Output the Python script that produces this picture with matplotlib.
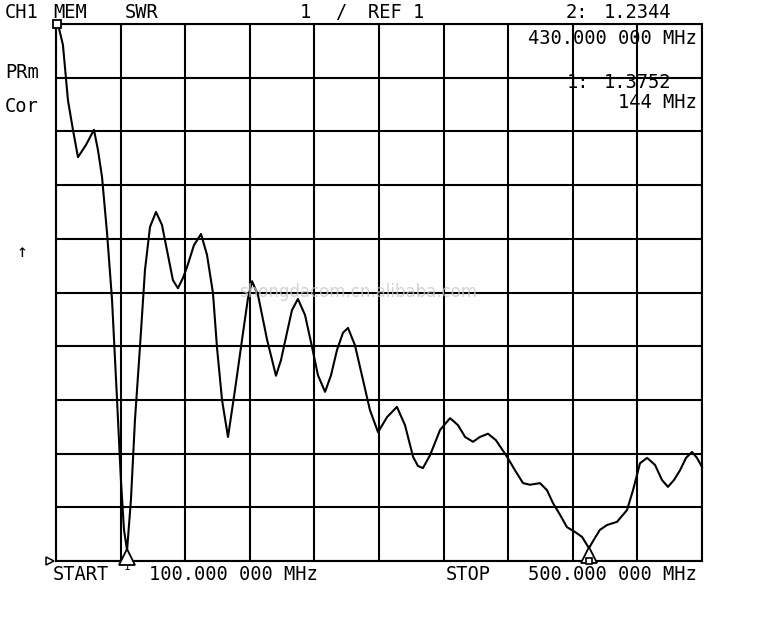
"""Network analyzer SWR trace (CH1 MEM), 100-500 MHz sweep."""

import matplotlib

matplotlib.use("Agg")
import matplotlib.pyplot as plt
import matplotlib.transforms as mtransforms
import numpy as np

# sweep frequency (MHz) and trace height in graticule divisions (REF 1 at bottom)
freq_mhz = [
    101.2, 104.3, 107.4, 110.5, 113.6, 118.6, 123.5, 126.0, 128.5, 131.6,
    134.7, 137.8, 140.2, 142.1, 144.0, 146.4, 148.9, 152.0, 155.1, 158.2,
    161.9, 165.6, 168.7, 172.4, 175.5, 178.6, 181.1, 185.4, 189.8, 193.5,
    197.2, 199.7, 202.8, 206.5, 210.8, 215.8, 218.9, 221.4, 225.1, 230.7,
    236.2, 239.3, 243.0, 246.1, 249.8, 254.2, 258.5, 262.2, 266.6, 270.3,
    274.0, 277.7, 280.8, 285.1, 290.1, 294.4, 299.4, 305.0, 311.1, 316.1,
    321.1, 324.1, 327.2, 331.6, 337.8, 344.0, 348.9, 353.3, 358.2, 362.5,
    367.5, 372.4, 379.3, 384.2, 389.2, 393.5, 399.7, 404.0, 407.7, 412.1,
    416.4, 421.4, 425.7, 430.0, 433.7, 436.8, 441.2, 447.4, 453.6, 457.3,
    461.6, 466.0, 470.9, 475.2, 478.9, 482.7, 486.4, 490.1, 493.8, 496.9,
    500.0,
]
swr_div = [
    10.00, 9.61, 8.58, 8.03, 7.52, 7.75, 8.03, 7.65, 7.15, 6.11,
    4.86, 3.00, 1.51, 0.58, 0.20, 1.14, 2.63, 3.99, 5.42, 6.22,
    6.50, 6.26, 5.79, 5.23, 5.08, 5.27, 5.47, 5.88, 6.09, 5.70,
    4.99, 3.97, 3.00, 2.31, 3.18, 4.25, 4.90, 5.21, 4.95, 4.12,
    3.45, 3.74, 4.25, 4.67, 4.88, 4.58, 3.99, 3.46, 3.15, 3.46,
    3.93, 4.25, 4.34, 4.02, 3.37, 2.81, 2.40, 2.68, 2.87, 2.53,
    1.94, 1.77, 1.73, 1.97, 2.44, 2.66, 2.53, 2.31, 2.22, 2.31,
    2.37, 2.25, 1.94, 1.69, 1.45, 1.42, 1.45, 1.32, 1.08, 0.86,
    0.63, 0.54, 0.45, 0.24, 0.43, 0.58, 0.67, 0.73, 0.95, 1.32,
    1.82, 1.92, 1.79, 1.51, 1.38, 1.51, 1.69, 1.92, 2.03, 1.92,
    1.75,
]

# markers 1 and 2: frequency (MHz), trace level (div), SWR readout
marker_freq = [144.0, 430.0]
marker_level = [0.20, 0.24]
marker_readout = ["1.3752", "1.2344"]

start_mhz, stop_mhz = 100.0, 500.0
n_div = 10

W, H = 768, 620
MONO = "DejaVu Sans Mono"
FS = 13.5


def px_text(fig, x, y, s, **kw):
    """Place text using image pixel coords (origin top-left)."""
    kw.setdefault("family", MONO)
    kw.setdefault("fontsize", FS)
    kw.setdefault("va", "center")
    kw.setdefault("ha", "left")
    kw.setdefault("color", "black")
    fig.text(x / W, 1 - y / H, s, **kw)


def main():
    fig = plt.figure(figsize=(W / 100, H / 100), dpi=100)
    fig.patch.set_facecolor("white")
    ax = fig.add_axes([56 / W, 1 - 561 / H, (702 - 56) / W, (561 - 24) / H])

    ax.set_xlim(start_mhz, stop_mhz)
    ax.set_ylim(0, n_div)
    ax.set_xticks(np.linspace(start_mhz, stop_mhz, n_div + 1))
    ax.set_yticks(np.arange(0, n_div + 1))
    ax.tick_params(length=0, labelbottom=False, labelleft=False)
    ax.grid(True, color="black", linewidth=1.5)
    for sp in ax.spines.values():
        sp.set_linewidth(1.5)
        sp.set_color("black")

    ax.plot(freq_mhz, swr_div, color="black", linewidth=1.5, clip_on=False, zorder=3)

    # marker triangles hang just below the trace point
    down = mtransforms.offset_copy(ax.transData, fig=fig, y=-7, units="dots")
    for f, lv in zip(marker_freq, marker_level):
        ax.plot([f], [lv], marker="^", markersize=11, markerfacecolor="white",
                markeredgecolor="black", markeredgewidth=1.3, transform=down,
                clip_on=False, zorder=4)
    ax.text(marker_freq[0], 0, "1", transform=mtransforms.offset_copy(
        ax.transData, fig=fig, y=-6, units="dots"), ha="center", va="center",
        fontsize=8, family=MONO)
    ax.plot([marker_freq[1]], [0], marker="s", markersize=5, markerfacecolor="white",
            markeredgecolor="black", markeredgewidth=1.2, clip_on=False, zorder=4)

    # stimulus start and reference position pointers
    ax.plot([start_mhz + 0.8], [n_div], marker="s", markersize=6, markerfacecolor="white",
            markeredgecolor="black", markeredgewidth=1.3, clip_on=False, zorder=4)
    left = mtransforms.offset_copy(ax.transData, fig=fig, x=-6, units="dots")
    ax.plot([start_mhz], [0], marker=">", markersize=6, markerfacecolor="white",
            markeredgecolor="black", markeredgewidth=1.1, transform=left,
            clip_on=False, zorder=4)

    # header
    px_text(fig, 5, 12, "CH1")
    px_text(fig, 53, 12, "MEM")
    px_text(fig, 125, 12, "SWR")
    px_text(fig, 300, 12, "1")
    px_text(fig, 335, 12, "/")
    px_text(fig, 368, 12, "REF 1")
    px_text(fig, 566, 12, "2:")
    px_text(fig, 604, 12, marker_readout[1])

    # marker readouts inside the graticule
    px_text(fig, 697, 38, "430.000 000 MHz", ha="right")
    px_text(fig, 567, 83, "1:")
    px_text(fig, 604, 83, marker_readout[0])
    px_text(fig, 697, 102, "144 MHz", ha="right")

    # left annotations
    px_text(fig, 5, 72, "PRm")
    px_text(fig, 5, 107, "Cor")
    px_text(fig, 22, 252, "\u2191", ha="center", fontsize=13)

    # footer
    px_text(fig, 53, 575, "START")
    px_text(fig, 318, 575, "100.000 000 MHz", ha="right")
    px_text(fig, 446, 575, "STOP")
    px_text(fig, 697, 575, "500.000 000 MHz", ha="right")

    # watermark
    px_text(fig, 358, 292, "shongdacom.cn.alibaba.com", ha="center", family="DejaVu Sans",
            fontsize=12, color="#c8c8c8", alpha=0.8, zorder=5)

    fig.savefig("out.png", dpi=100, facecolor="white")
    plt.close(fig)


if __name__ == "__main__":
    main()
